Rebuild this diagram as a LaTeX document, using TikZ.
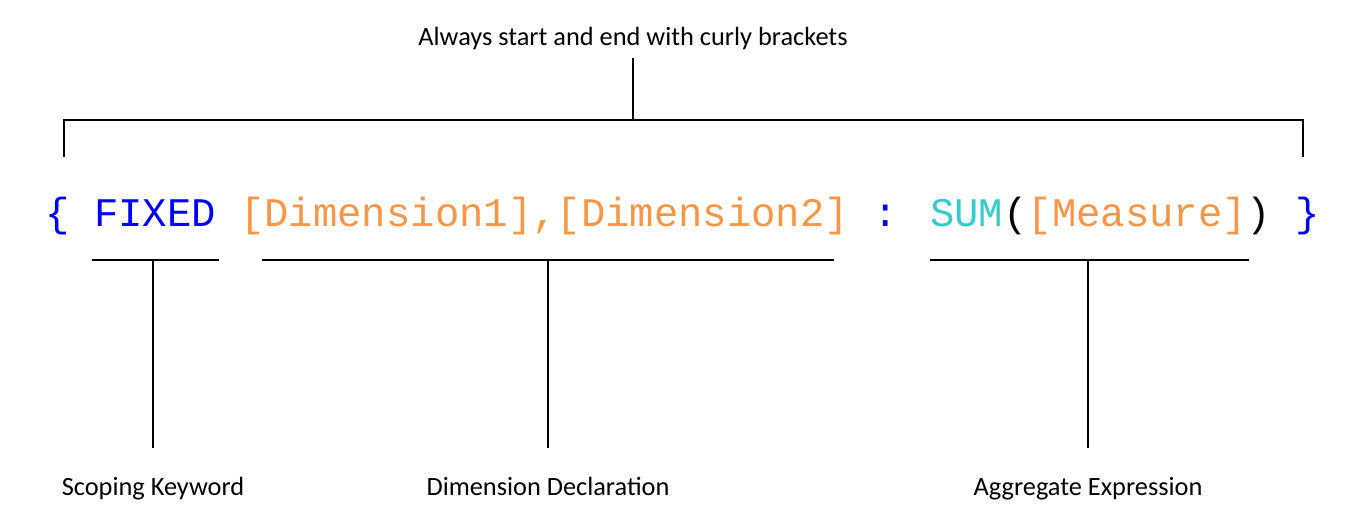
\documentclass[tikz,border=0pt]{standalone}
\usepackage{fontspec}
\setmainfont{Carlito}
\newfontfamily\codefont{Liberation Mono}
\usetikzlibrary{positioning}

\tikzstyle{note} = [font=\fontsize{15}{18}\selectfont, inner sep=0pt]
\tikzstyle{codeline} = [font=\codefont\fontsize{23.1}{28}\selectfont, inner sep=0pt, anchor=base west]
\tikzstyle{linkline} = [draw, line width=1.1pt]
\definecolor{blue1}{RGB}{0,0,255}
\definecolor{orange1}{RGB}{247,150,70}
\definecolor{teal1}{RGB}{51,204,204}

\begin{document}
\begin{tikzpicture}[x=0.02cm, y=-0.02cm]
	\useasboundingbox (0,0) rectangle (1351,520);

	\node [note, anchor=base] (curly) at (633,46) {Always start and end with curly brackets};
	\node [codeline] (expr) at (45,226) {\textcolor{blue1}{\{ FIXED} \textcolor{orange1}{[Dimension1],[Dimension2]} \textcolor{blue1}{:} \textcolor{teal1}{SUM}(\textcolor{orange1}{[Measure]}) \textcolor{blue1}{\}}};

	\node [note, anchor=base] (keyword) at (153,495) {Scoping Keyword};
	\node [note, anchor=base] (dimension) at (548,495) {Dimension Declaration};
	\node [note, anchor=base] (aggregate) at (1088,495) {Aggregate Expression};

	\coordinate (bracemid) at (633,120);
	\coordinate (braceleft) at (64,157);
	\coordinate (braceright) at (1303,157);

	\coordinate (kw_a) at (92,260);
	\coordinate (kw_b) at (219,260);
	\coordinate (kw_m) at (153,260);
	\coordinate (dim_a) at (262,260);
	\coordinate (dim_b) at (834,260);
	\coordinate (dim_m) at (548,260);
	\coordinate (agg_a) at (930,260);
	\coordinate (agg_b) at (1249,260);
	\coordinate (agg_m) at (1088,260);

	% Curly brackets
	\draw [linkline, shorten <=0.14cm] (curly.south) -- (bracemid);
	\draw [linkline] (braceleft) -- (braceleft |- bracemid) -- (braceright |- bracemid) -- (braceright);

	% Parts
	\draw [linkline] (kw_a) -- (kw_b);
	\draw [linkline] (dim_a) -- (dim_b);
	\draw [linkline] (agg_a) -- (agg_b);
	\draw [linkline, shorten >=0.57cm] (kw_m) -- (kw_m |- keyword.north);
	\draw [linkline, shorten >=0.57cm] (dim_m) -- (dim_m |- dimension.north);
	\draw [linkline, shorten >=0.57cm] (agg_m) -- (agg_m |- aggregate.north);
\end{tikzpicture}
\end{document}
